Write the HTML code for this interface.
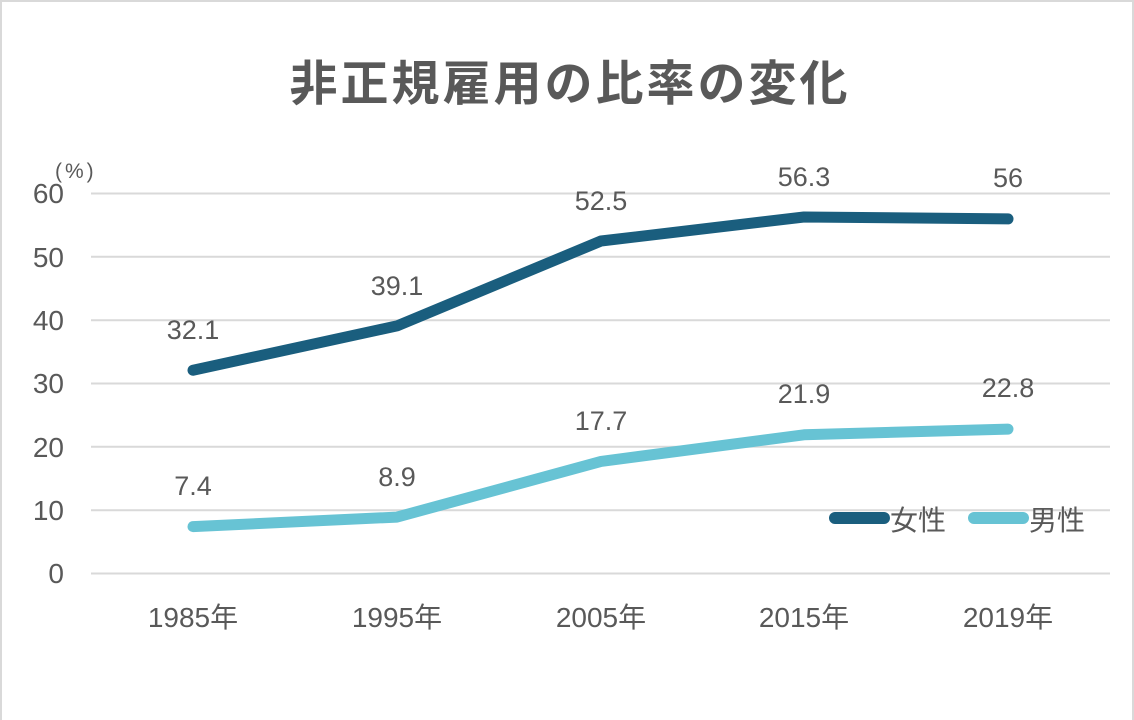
<!DOCTYPE html>
<html>
<head>
<meta charset="utf-8">
<style>
  html, body { margin: 0; padding: 0; background: #fff; }
  body { width: 1134px; height: 720px; overflow: hidden; }
  svg { display: block; }
  text { font-family: "Liberation Sans", "Noto Sans CJK JP", sans-serif; fill: #595959; }
</style>
</head>
<body>
<svg width="1134" height="720" viewBox="0 0 1134 720" xmlns="http://www.w3.org/2000/svg">
  <rect x="0" y="0" width="1134" height="720" fill="#fff"/>
  <!-- chart border -->
  <line x1="0" y1="1" x2="1134" y2="1" stroke="#d9d9d9" stroke-width="2"/>
  <line x1="1" y1="0" x2="1" y2="720" stroke="#d9d9d9" stroke-width="2"/>
  <line x1="1133" y1="0" x2="1133" y2="720" stroke="#d9d9d9" stroke-width="2"/>

  <!-- title -->
  <text x="570" y="79" text-anchor="middle" dominant-baseline="central" font-size="48" font-weight="bold" letter-spacing="3" style="font-family:'Noto Sans CJK JP','Liberation Sans',sans-serif;">非正規雇用の比率の変化</text>

  <!-- gridlines -->
  <g stroke="#d9d9d9" stroke-width="2">
    <line x1="91" y1="193.5" x2="1110" y2="193.5"/>
    <line x1="91" y1="256.8" x2="1110" y2="256.8"/>
    <line x1="91" y1="320.2" x2="1110" y2="320.2"/>
    <line x1="91" y1="383.5" x2="1110" y2="383.5"/>
    <line x1="91" y1="446.8" x2="1110" y2="446.8"/>
    <line x1="91" y1="510.2" x2="1110" y2="510.2"/>
    <line x1="91" y1="573.5" x2="1110" y2="573.5"/>
  </g>

  <!-- y tick labels -->
  <g font-size="28" text-anchor="end">
    <text x="64" y="203">60</text>
    <text x="64" y="267">50</text>
    <text x="64" y="330">40</text>
    <text x="64" y="393">30</text>
    <text x="64" y="457">20</text>
    <text x="64" y="520">10</text>
    <text x="64" y="583">0</text>
  </g>
  <text x="55" y="178" font-size="21" letter-spacing="3">(%)</text>

  <!-- x labels -->
  <g font-size="28" text-anchor="middle">
    <text x="193" y="627">1985年</text>
    <text x="397" y="627">1995年</text>
    <text x="601" y="627">2005年</text>
    <text x="804" y="627">2015年</text>
    <text x="1008" y="627">2019年</text>
  </g>

  <!-- series -->
  <polyline points="193,370.2 397,325.9 601,241.0 804,217.0 1008,218.9" fill="none" stroke="#1a5e7e" stroke-width="11" stroke-linecap="round" stroke-linejoin="round"/>
  <polyline points="193,526.6 397,517.1 601,461.4 804,434.8 1008,429.1" fill="none" stroke="#67c3d4" stroke-width="11" stroke-linecap="round" stroke-linejoin="round"/>

  <!-- data labels -->
  <g font-size="27" text-anchor="middle">
    <text x="193" y="339">32.1</text>
    <text x="397" y="295">39.1</text>
    <text x="601" y="210">52.5</text>
    <text x="804" y="186">56.3</text>
    <text x="1008" y="187">56</text>
    <text x="193" y="495">7.4</text>
    <text x="397" y="486">8.9</text>
    <text x="601" y="430">17.7</text>
    <text x="804" y="403">21.9</text>
    <text x="1008" y="397">22.8</text>
  </g>

  <!-- legend -->
  <line x1="835" y1="518" x2="884" y2="518" stroke="#1a5e7e" stroke-width="12" stroke-linecap="round"/>
  <text x="890" y="519" font-size="28" dominant-baseline="central" style="font-family:'Noto Sans CJK JP','Liberation Sans',sans-serif;">女性</text>
  <line x1="974" y1="518" x2="1023" y2="518" stroke="#67c3d4" stroke-width="12" stroke-linecap="round"/>
  <text x="1029" y="519" font-size="28" dominant-baseline="central" style="font-family:'Noto Sans CJK JP','Liberation Sans',sans-serif;">男性</text>
</svg>
</body>
</html>
